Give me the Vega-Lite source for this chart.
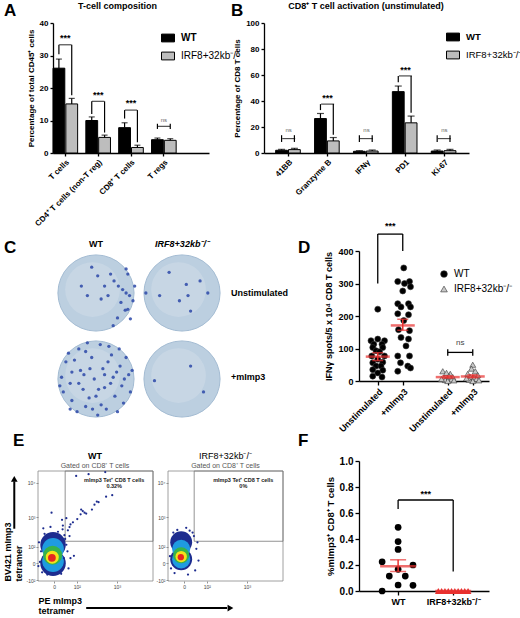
{
"$schema":"https://vega.github.io/schema/vega-lite/v6.json",
"background":"white",
"padding":{"left":3,"top":2,"right":0,"bottom":0},
"columns":9,
"bounds":"flush",
"spacing":0,
"resolve":{"scale":{"color":"independent","shape":"independent","size":"independent"},"legend":{"color":"independent","shape":"independent","size":"independent"}},
"config":{
 "font":"Liberation Sans",
 "view":{"stroke":null},
 "axis":{"grid":false,"domainColor":"#000","domainWidth":1.3,"tickColor":"#000","tickWidth":1.3,"tickSize":3,"labelColor":"#000","titleColor":"#000","labelFontWeight":"bold","titleFontWeight":"bold","labelFontSize":8,"titleFontSize":8,"labelPadding":2,"titlePadding":4,"labelFont":"Liberation Sans","titleFont":"Liberation Sans"},
 "title":{"font":"Liberation Sans","fontWeight":"bold","color":"#000","fontSize":9},
 "legend":{"labelColor":"#000","labelFont":"Liberation Sans"},
 "text":{"font":"Liberation Sans"}
},
"concat":[
{"width":34,"height":168,"data":{"values":[{"t":"A"}]},"mark":{"type":"text","align":"left","baseline":"middle","fontSize":17,"fontWeight":"bold"},
 "encoding":{"text":{"field":"t"},"x":{"datum":0,"type":"quantitative","scale":{"domain":[0,1]},"axis":null},"y":{"datum":1.071,"type":"quantitative","scale":{"domain":[0,1]},"axis":null}}},
{"width":8,"height":1,"data":{"values":[]},"mark":"point"},
{"width":7,"height":1,"data":{"values":[]},"mark":"point"},
{"width":115,"height":130,
 "title":{"text":"T-cell composition","dx":7,"offset":8},
 "data":{"values":[
  {"cell":"T cells","g":"WT","m":26.1,"hi":28.9},
  {"cell":"T cells","g":"IRF8+32kb⁻/⁻","m":15.1,"hi":16.8},
  {"cell":"CD4⁺ T cells (non-T reg)","g":"WT","m":10.0,"hi":11.1},
  {"cell":"CD4⁺ T cells (non-T reg)","g":"IRF8+32kb⁻/⁻","m":4.8,"hi":5.5},
  {"cell":"CD8⁺ T cells","g":"WT","m":7.8,"hi":9.3},
  {"cell":"CD8⁺ T cells","g":"IRF8+32kb⁻/⁻","m":1.7,"hi":2.4},
  {"cell":"T regs","g":"WT","m":4.1,"hi":4.6},
  {"cell":"T regs","g":"IRF8+32kb⁻/⁻","m":3.9,"hi":4.4}]},
 "encoding":{"x":{"field":"cell","type":"nominal","scale":{"domain":["T cells","CD4⁺ T cells (non-T reg)","CD8⁺ T cells","T regs"," "],"range":[0,156],"paddingInner":0.25,"paddingOuter":0},
   "axis":{"values":["T cells","CD4⁺ T cells (non-T reg)","CD8⁺ T cells","T regs"],"labelAngle":-45,"title":null,"labelFontSize":8}}},
 "layer":[
  {"mark":{"type":"bar","stroke":"#000","strokeWidth":1},
   "encoding":{"xOffset":{"field":"g","type":"nominal","scale":{"domain":["WT","IRF8+32kb⁻/⁻"],"paddingInner":0.08}},
    "y":{"field":"m","type":"quantitative","scale":{"domain":[0,40]},"axis":{"values":[0,10,20,30,40],"title":"Percentage of total CD45⁺ cells"}},
    "color":{"field":"g","type":"nominal","scale":{"domain":["WT","IRF8+32kb⁻/⁻"],"range":["#000000","#bdbdbd"]},
     "legend":{"title":null,"orient":"none","legendX":108,"legendY":8,"symbolType":"M-1,-0.6H1V0.6H-1Z","symbolSize":169,"symbolStrokeColor":"#000","symbolStrokeWidth":1,"labelFontSize":10,"rowPadding":5,"labelOffset":6,
      "encode":{"labels":{"update":{"fontWeight":{"signal":"datum.label === 'WT' ? 'bold' : 'normal'"}}}}}}}},
  {"mark":{"type":"rule","color":"#000","strokeWidth":1.2},
   "encoding":{"xOffset":{"field":"g","type":"nominal","scale":{"domain":["WT","IRF8+32kb⁻/⁻"],"paddingInner":0.08}},
    "y":{"field":"m","type":"quantitative","scale":{"domain":[0,40]},"axis":{"values":[0,10,20,30,40],"title":"Percentage of total CD45⁺ cells"}},"y2":{"field":"hi"}}},
  {"mark":{"type":"tick","orient":"horizontal","size":6,"thickness":1.2,"color":"#000"},
   "encoding":{"xOffset":{"field":"g","type":"nominal","scale":{"domain":["WT","IRF8+32kb⁻/⁻"],"paddingInner":0.08}},
    "y":{"field":"hi","type":"quantitative","scale":{"domain":[0,40]},"axis":{"values":[0,10,20,30,40],"title":"Percentage of total CD45⁺ cells"}}}},
  {"data":{"values":[
    {"cell":"T cells","g":"WT","lo":30.4,"top":33.3},{"cell":"T cells","g":"IRF8+32kb⁻/⁻","lo":17.8,"top":33.3},
    {"cell":"CD4⁺ T cells (non-T reg)","g":"WT","lo":12.0,"top":15.9},{"cell":"CD4⁺ T cells (non-T reg)","g":"IRF8+32kb⁻/⁻","lo":6.3,"top":15.9},
    {"cell":"CD8⁺ T cells","g":"WT","lo":10.6,"top":13.2},{"cell":"CD8⁺ T cells","g":"IRF8+32kb⁻/⁻","lo":3.3,"top":13.2},
    {"cell":"T regs","g":"WT","lo":7.4,"top":9.0},{"cell":"T regs","g":"IRF8+32kb⁻/⁻","lo":7.4,"top":9.0}]},
   "mark":{"type":"rule","color":"#000","strokeWidth":1.2},
   "encoding":{"xOffset":{"field":"g","type":"nominal","scale":{"domain":["WT","IRF8+32kb⁻/⁻"],"paddingInner":0.08}},
    "y":{"field":"lo","type":"quantitative","scale":{"domain":[0,40]},"axis":{"values":[0,10,20,30,40],"title":"Percentage of total CD45⁺ cells"}},"y2":{"field":"top"}}},
  {"data":{"values":[{"cell":"T cells","top":33.3},{"cell":"CD4⁺ T cells (non-T reg)","top":15.9},{"cell":"CD8⁺ T cells","top":13.2},{"cell":"T regs","top":8.2}]},
   "mark":{"type":"tick","orient":"horizontal","size":12.3,"thickness":1.2,"color":"#000"},
   "encoding":{"y":{"field":"top","type":"quantitative","scale":{"domain":[0,40]},"axis":{"values":[0,10,20,30,40],"title":"Percentage of total CD45⁺ cells"}}}},
  {"data":{"values":[{"cell":"T cells","ty":35.4,"lab":"***"},{"cell":"CD4⁺ T cells (non-T reg)","ty":18.0,"lab":"***"},{"cell":"CD8⁺ T cells","ty":15.3,"lab":"***"}]},
   "mark":{"type":"text","fontSize":9,"fontWeight":"bold","baseline":"middle"},
   "encoding":{"y":{"field":"ty","type":"quantitative","scale":{"domain":[0,40]},"axis":{"values":[0,10,20,30,40],"title":"Percentage of total CD45⁺ cells"}},"text":{"field":"lab"}}},
  {"data":{"values":[{"cell":"T regs","ty":10.3,"lab":"ns"}]},
   "mark":{"type":"text","fontSize":6,"color":"#666","baseline":"middle"},
   "encoding":{"y":{"field":"ty","type":"quantitative","scale":{"domain":[0,40]},"axis":{"values":[0,10,20,30,40],"title":"Percentage of total CD45⁺ cells"}},"text":{"field":"lab"}}}
 ]},
{"width":63,"height":1,"data":{"values":[]},"mark":"point"},
{"width":33,"height":168,"data":{"values":[{"t":"B"}]},"mark":{"type":"text","align":"left","baseline":"middle","fontSize":17,"fontWeight":"bold"},
 "encoding":{"text":{"field":"t"},"x":{"datum":0,"type":"quantitative","scale":{"domain":[0,1]},"axis":null},"y":{"datum":1.071,"type":"quantitative","scale":{"domain":[0,1]},"axis":null}}},
{"width":34,"height":130,
 "title":{"text":"CD8⁺ T cell activation (unstimulated)","dx":85,"offset":8},
 "data":{"values":[
  {"cell":"41BB","g":"WT","m":2.1,"hi":2.8},{"cell":"41BB","g":"IRF8+32kb⁻/⁻","m":2.6,"hi":3.6},
  {"cell":"Granzyme B","g":"WT","m":26.5,"hi":30.4},{"cell":"Granzyme B","g":"IRF8+32kb⁻/⁻","m":9.3,"hi":11.9},
  {"cell":"IFNγ","g":"WT","m":1.3,"hi":1.8},{"cell":"IFNγ","g":"IRF8+32kb⁻/⁻","m":1.5,"hi":2.3},
  {"cell":"PD1","g":"WT","m":47.2,"hi":51.5},{"cell":"PD1","g":"IRF8+32kb⁻/⁻","m":23.2,"hi":28.4},
  {"cell":"Ki-67","g":"WT","m":1.5,"hi":2.3},{"cell":"Ki-67","g":"IRF8+32kb⁻/⁻","m":1.8,"hi":2.8}]},
 "encoding":{"x":{"field":"cell","type":"nominal","scale":{"domain":["41BB","Granzyme B","IFNγ","PD1","Ki-67"],"range":[0,205],"paddingInner":0.33,"paddingOuter":0.3},
   "axis":{"labelAngle":-45,"title":null,"labelFontSize":8}}},
 "layer":[
  {"mark":{"type":"bar","stroke":"#000","strokeWidth":1},
   "encoding":{"xOffset":{"field":"g","type":"nominal","scale":{"domain":["WT","IRF8+32kb⁻/⁻"],"paddingInner":0.08}},
    "y":{"field":"m","type":"quantitative","scale":{"domain":[0,100]},"axis":{"values":[0,20,40,60,80,100],"title":"Percentage of CD8 T cells"}},
    "color":{"field":"g","type":"nominal","scale":{"domain":["WT","IRF8+32kb⁻/⁻"],"range":["#000000","#bdbdbd"]},
     "legend":{"title":null,"orient":"none","legendX":182,"legendY":7,"symbolType":"M-1,-0.6H1V0.6H-1Z","symbolSize":169,"symbolStrokeColor":"#000","symbolStrokeWidth":1,"labelFontSize":9.5,"rowPadding":5,"labelOffset":6,
      "encode":{"labels":{"update":{"fontWeight":{"signal":"datum.label === 'WT' ? 'bold' : 'normal'"}}}}}}}},
  {"mark":{"type":"rule","color":"#000","strokeWidth":1.2},
   "encoding":{"xOffset":{"field":"g","type":"nominal","scale":{"domain":["WT","IRF8+32kb⁻/⁻"],"paddingInner":0.08}},
    "y":{"field":"m","type":"quantitative","scale":{"domain":[0,100]},"axis":{"values":[0,20,40,60,80,100],"title":"Percentage of CD8 T cells"}},"y2":{"field":"hi"}}},
  {"mark":{"type":"tick","orient":"horizontal","size":7,"thickness":1.2,"color":"#000"},
   "encoding":{"xOffset":{"field":"g","type":"nominal","scale":{"domain":["WT","IRF8+32kb⁻/⁻"],"paddingInner":0.08}},
    "y":{"field":"hi","type":"quantitative","scale":{"domain":[0,100]},"axis":{"values":[0,20,40,60,80,100],"title":"Percentage of CD8 T cells"}}}},
  {"data":{"values":[
    {"cell":"Granzyme B","g":"WT","lo":33.0,"top":37.6},{"cell":"Granzyme B","g":"IRF8+32kb⁻/⁻","lo":14.0,"top":37.6},
    {"cell":"PD1","g":"WT","lo":54.5,"top":59.3},{"cell":"PD1","g":"IRF8+32kb⁻/⁻","lo":31.0,"top":59.3},
    {"cell":"41BB","g":"WT","lo":8.5,"top":13.7},{"cell":"41BB","g":"IRF8+32kb⁻/⁻","lo":8.5,"top":13.7},
    {"cell":"IFNγ","g":"WT","lo":8.5,"top":13.7},{"cell":"IFNγ","g":"IRF8+32kb⁻/⁻","lo":8.5,"top":13.7},
    {"cell":"Ki-67","g":"WT","lo":8.5,"top":13.7},{"cell":"Ki-67","g":"IRF8+32kb⁻/⁻","lo":8.5,"top":13.7}]},
   "mark":{"type":"rule","color":"#000","strokeWidth":1.2},
   "encoding":{"xOffset":{"field":"g","type":"nominal","scale":{"domain":["WT","IRF8+32kb⁻/⁻"],"paddingInner":0.08}},
    "y":{"field":"lo","type":"quantitative","scale":{"domain":[0,100]},"axis":{"values":[0,20,40,60,80,100],"title":"Percentage of CD8 T cells"}},"y2":{"field":"top"}}},
  {"data":{"values":[{"cell":"Granzyme B","top":37.6},{"cell":"PD1","top":59.3},{"cell":"41BB","top":11.1},{"cell":"IFNγ","top":11.1},{"cell":"Ki-67","top":11.1}]},
   "mark":{"type":"tick","orient":"horizontal","size":13,"thickness":1.2,"color":"#000"},
   "encoding":{"y":{"field":"top","type":"quantitative","scale":{"domain":[0,100]},"axis":{"values":[0,20,40,60,80,100],"title":"Percentage of CD8 T cells"}}}},
  {"data":{"values":[{"cell":"Granzyme B","ty":42.3,"lab":"***"},{"cell":"PD1","ty":64.0,"lab":"***"}]},
   "mark":{"type":"text","fontSize":9,"fontWeight":"bold","baseline":"middle"},
   "encoding":{"y":{"field":"ty","type":"quantitative","scale":{"domain":[0,100]},"axis":{"values":[0,20,40,60,80,100],"title":"Percentage of CD8 T cells"}},"text":{"field":"lab"}}},
  {"data":{"values":[{"cell":"41BB","ty":18,"lab":"ns"},{"cell":"IFNγ","ty":18,"lab":"ns"},{"cell":"Ki-67","ty":18,"lab":"ns"}]},
   "mark":{"type":"text","fontSize":6,"color":"#666","baseline":"middle"},
   "encoding":{"y":{"field":"ty","type":"quantitative","scale":{"domain":[0,100]},"axis":{"values":[0,20,40,60,80,100],"title":"Percentage of CD8 T cells"}},"text":{"field":"lab"}}}
 ]},
{"width":61,"height":1,"data":{"values":[]},"mark":"point"},
{"width":1,"height":1,"data":{"values":[]},"mark":"point"},

{"width":34,"height":270,"data":{"values":[{"t":"C"}]},"mark":{"type":"text","align":"left","baseline":"middle","fontSize":17,"fontWeight":"bold"},
 "encoding":{"text":{"field":"t"},"x":{"datum":0,"type":"quantitative","scale":{"domain":[0,1]},"axis":null},"y":{"datum":0.789,"type":"quantitative","scale":{"domain":[0,1]},"axis":null}}},
{"width":1,"height":1,"data":{"values":[]},"mark":"point"},
{"width":7,"height":242,
 "encoding":{"x":{"field":"x","type":"quantitative","scale":{"domain":[0.419,3.174],"range":[0,237]},"axis":null},
  "y":{"field":"y","type":"quantitative","scale":{"domain":[-0.186,2.628],"reverse":true},"axis":null}},
 "layer":[
  {"data":{"values":[{"x":1,"y":1},{"x":2,"y":1},{"x":1,"y":2},{"x":2,"y":2}]},
   "mark":{"type":"point","filled":true,"size":5800,"color":"#bccfe0","stroke":"#a4bcd3","strokeWidth":1,"opacity":1}},
  {"data":{"values":[{"x":0.96,"y":0.96},{"x":1.96,"y":0.96},{"x":0.96,"y":1.96},{"x":1.96,"y":1.96}]},
   "mark":{"type":"point","filled":true,"size":3000,"color":"#d6e2ec","opacity":0.4,"strokeWidth":0}},
  {"data":{"values":[
    {"x":1.35,"y":0.72},{"x":1.37,"y":0.78},{"x":1.21,"y":0.86},{"x":1.26,"y":0.92},{"x":1.31,"y":0.96},{"x":1.35,"y":1.0},{"x":1.14,"y":1.03},{"x":1.06,"y":1.07},{"x":1.43,"y":1.09},{"x":1.37,"y":1.19},{"x":1.25,"y":1.29},{"x":0.83,"y":0.92},{"x":1.10,"y":0.92},{"x":1.17,"y":0.78},{"x":1.02,"y":0.80},{"x":1.45,"y":0.92},{"x":1.39,"y":1.03},{"x":1.34,"y":1.2},{"x":1.29,"y":1.11},{"x":0.90,"y":1.03},{"x":1.2,"y":1.38},{"x":0.95,"y":0.7},{"x":1.4,"y":1.3},
    {"x":1.58,"y":1.0},{"x":2.05,"y":0.90},{"x":2.07,"y":1.03},{"x":1.97,"y":1.09},{"x":2.21,"y":0.86},{"x":1.85,"y":0.76},{"x":1.74,"y":1.03},{"x":2.10,"y":1.21},{"x":2.3,"y":1.0},
    {"x":0.65,"y":1.8},{"x":0.7,"y":2.05},{"x":0.72,"y":2.25},{"x":0.8,"y":1.65},{"x":0.82,"y":1.9},{"x":0.85,"y":2.12},{"x":0.88,"y":2.32},{"x":0.95,"y":1.75},{"x":0.98,"y":2.0},{"x":1.0,"y":2.2},{"x":1.05,"y":1.6},{"x":1.08,"y":1.88},{"x":1.1,"y":2.1},{"x":1.12,"y":2.35},{"x":1.18,"y":1.72},{"x":1.2,"y":1.98},{"x":1.22,"y":2.2},{"x":1.28,"y":1.85},{"x":1.3,"y":2.08},{"x":1.32,"y":2.28},{"x":1.38,"y":1.95},{"x":0.6,"y":1.98},{"x":0.62,"y":2.15},{"x":0.75,"y":1.78},{"x":0.9,"y":1.58},{"x":1.15,"y":1.62},{"x":1.35,"y":1.75},{"x":1.4,"y":2.15},{"x":0.78,"y":2.38},{"x":1.02,"y":2.42},{"x":1.25,"y":2.38},{"x":0.68,"y":1.7},{"x":0.92,"y":2.22},{"x":1.14,"y":1.8},{"x":0.72,"y":1.92},{"x":1.06,"y":2.3},{"x":0.86,"y":1.95},{"x":1.27,"y":1.65},{"x":0.58,"y":2.08},{"x":1.42,"y":1.9},{"x":0.93,"y":1.88},{"x":1.03,"y":2.12},{"x":1.17,"y":2.05},{"x":0.8,"y":2.05},{"x":1.24,"y":1.92},{"x":0.96,"y":2.35},{"x":1.1,"y":1.95},{"x":0.88,"y":1.68},{"x":1.33,"y":2.0},{"x":0.7,"y":2.35},
    {"x":1.68,"y":2.02},{"x":2.1,"y":1.85},{"x":2.25,"y":2.15}]},
   "mark":{"type":"point","filled":true,"size":11,"color":"#2c48a8","opacity":0.85}},
  {"data":{"values":[{"x":1,"y":0.43,"t":"WT"}]},
   "mark":{"type":"text","fontSize":9,"fontWeight":"bold","baseline":"middle"},"encoding":{"text":{"field":"t"}}},
  {"data":{"values":[{"x":2,"y":0.43,"t":"IRF8+32kb⁻/⁻"}]},
   "mark":{"type":"text","fontSize":9,"fontWeight":"bold","fontStyle":"italic","baseline":"middle"},"encoding":{"text":{"field":"t"}}},
  {"data":{"values":[{"x":2.57,"y":1.0,"t":"Unstimulated"},{"x":2.57,"y":1.98,"t":"+mImp3"}]},
   "mark":{"type":"text","fontSize":9,"fontWeight":"bold","align":"left","baseline":"middle"},"encoding":{"text":{"field":"t"}}}
 ]},
{"width":1,"height":1,"data":{"values":[]},"mark":"point"},
{"width":1,"height":1,"data":{"values":[]},"mark":"point"},
{"width":1,"height":1,"data":{"values":[]},"mark":"point"},
{"width":1,"height":1,"data":{"values":[]},"mark":"point"},
{"width":61,"height":270,"data":{"values":[{"t":"D"}]},"mark":{"type":"text","align":"left","baseline":"middle","fontSize":17,"fontWeight":"bold"},
 "encoding":{"text":{"field":"t"},"x":{"datum":0,"type":"quantitative","scale":{"domain":[0,1]},"axis":null},"y":{"datum":0.789,"type":"quantitative","scale":{"domain":[0,1]},"axis":null}}},
{"width":130,"height":190,
 "encoding":{"x":{"field":"x","type":"quantitative","scale":{"domain":[0.25,5.45]},
   "axis":{"values":[1,2,3.8,4.8],"labelExpr":"datum.value == 1 || datum.value == 3.8 ? 'Unstimulated' : '+mImp3'","labelAngle":-45,"labelOverlap":false,"title":null,"labelFontSize":9,"tickSize":4}}},
 "layer":[
  {"data":{"values":[
    {"g":"WT","x":1.0,"v":221},{"g":"WT","x":0.73,"v":124},{"g":"WT","x":1.0,"v":129},{"g":"WT","x":1.27,"v":124},{"g":"WT","x":0.84,"v":113},{"g":"WT","x":1.17,"v":113},{"g":"WT","x":0.8,"v":103},{"g":"WT","x":1.2,"v":103},{"g":"WT","x":0.93,"v":93},{"g":"WT","x":1.07,"v":90},{"g":"WT","x":0.76,"v":77},{"g":"WT","x":1.27,"v":77},{"g":"WT","x":1.0,"v":67},{"g":"WT","x":0.8,"v":56},{"g":"WT","x":1.2,"v":58},{"g":"WT","x":0.93,"v":46},{"g":"WT","x":1.13,"v":46},{"g":"WT","x":0.8,"v":35},{"g":"WT","x":1.2,"v":33},{"g":"WT","x":1.0,"v":25},{"g":"WT","x":0.8,"v":15},{"g":"WT","x":1.17,"v":12},
    {"g":"WT","x":2.04,"v":348},{"g":"WT","x":1.8,"v":306},{"g":"WT","x":2.27,"v":306},{"g":"WT","x":2.07,"v":300},{"g":"WT","x":2.31,"v":290},{"g":"WT","x":2.0,"v":277},{"g":"WT","x":1.8,"v":238},{"g":"WT","x":2.23,"v":238},{"g":"WT","x":1.93,"v":228},{"g":"WT","x":2.31,"v":228},{"g":"WT","x":1.8,"v":207},{"g":"WT","x":2.23,"v":204},{"g":"WT","x":2.04,"v":186},{"g":"WT","x":1.83,"v":158},{"g":"WT","x":2.27,"v":155},{"g":"WT","x":1.93,"v":134},{"g":"WT","x":2.23,"v":129},{"g":"WT","x":2.13,"v":108},{"g":"WT","x":1.8,"v":77},{"g":"WT","x":2.27,"v":77},{"g":"WT","x":1.91,"v":56},{"g":"WT","x":2.2,"v":46},{"g":"WT","x":2.31,"v":40},{"g":"WT","x":1.8,"v":30},
    {"g":"IRF8+32kb⁻/⁻","x":3.6,"v":30},{"g":"IRF8+32kb⁻/⁻","x":3.75,"v":25},{"g":"IRF8+32kb⁻/⁻","x":3.9,"v":22},{"g":"IRF8+32kb⁻/⁻","x":4.0,"v":12},{"g":"IRF8+32kb⁻/⁻","x":3.65,"v":10},{"g":"IRF8+32kb⁻/⁻","x":3.8,"v":8},{"g":"IRF8+32kb⁻/⁻","x":3.95,"v":5},{"g":"IRF8+32kb⁻/⁻","x":3.7,"v":3},{"g":"IRF8+32kb⁻/⁻","x":3.85,"v":15},{"g":"IRF8+32kb⁻/⁻","x":4.05,"v":2},{"g":"IRF8+32kb⁻/⁻","x":3.55,"v":6},{"g":"IRF8+32kb⁻/⁻","x":3.8,"v":0},
    {"g":"IRF8+32kb⁻/⁻","x":4.8,"v":50},{"g":"IRF8+32kb⁻/⁻","x":4.75,"v":38},{"g":"IRF8+32kb⁻/⁻","x":4.9,"v":30},{"g":"IRF8+32kb⁻/⁻","x":4.6,"v":22},{"g":"IRF8+32kb⁻/⁻","x":5.0,"v":18},{"g":"IRF8+32kb⁻/⁻","x":4.7,"v":12},{"g":"IRF8+32kb⁻/⁻","x":4.85,"v":10},{"g":"IRF8+32kb⁻/⁻","x":4.95,"v":6},{"g":"IRF8+32kb⁻/⁻","x":4.65,"v":4},{"g":"IRF8+32kb⁻/⁻","x":5.05,"v":2},{"g":"IRF8+32kb⁻/⁻","x":4.8,"v":0},{"g":"IRF8+32kb⁻/⁻","x":4.55,"v":8}]},
   "mark":{"type":"point","filled":true,"size":36,"stroke":"#333","strokeWidth":0.6,"opacity":1},
   "encoding":{"y":{"field":"v","type":"quantitative","scale":{"domain":[0,400],"range":[190,60]},"axis":{"values":[0,100,200,300,400],"title":"IFNγ spots/5 x 10⁴ CD8 T cells","labelFontSize":9,"titleFontSize":9,"tickSize":4}},
    "color":{"field":"g","type":"nominal","scale":{"domain":["WT","IRF8+32kb⁻/⁻"],"range":["#000000","#c8c8c8"]},
     "legend":{"title":null,"orient":"none","legendX":80,"legendY":78,"labelFontSize":10,"symbolSize":45,"rowPadding":5,"labelOffset":5,"symbolStrokeColor":"#333","symbolStrokeWidth":0.6,"encode":{"labels":{"update":{"fontWeight":{"signal":"datum.label === 'WT' ? 'bold' : 'normal'"}}}}}},
    "shape":{"field":"g","type":"nominal","scale":{"domain":["WT","IRF8+32kb⁻/⁻"],"range":["circle","triangle-up"]},
     "legend":{"title":null,"orient":"none","legendX":80,"legendY":78,"labelFontSize":10,"symbolSize":45,"rowPadding":5,"labelOffset":5,"symbolStrokeColor":"#333","symbolStrokeWidth":0.6,"encode":{"labels":{"update":{"fontWeight":{"signal":"datum.label === 'WT' ? 'bold' : 'normal'"}}}}}}}},
  {"data":{"values":[{"x":1,"m":75},{"x":2,"m":171},{"x":3.8,"m":12},{"x":4.8,"m":14}]},
   "mark":{"type":"tick","orient":"horizontal","size":24,"thickness":2.5,"color":"#e8312f"},
   "encoding":{"y":{"field":"m","type":"quantitative","scale":{"domain":[0,400],"range":[190,60]},"axis":{"values":[0,100,200,300,400],"title":"IFNγ spots/5 x 10⁴ CD8 T cells","labelFontSize":9,"titleFontSize":9,"tickSize":4}}}},
  {"data":{"values":[{"x":1,"lo":63,"hi":87},{"x":2,"lo":156,"hi":190},{"x":3.8,"lo":9,"hi":16},{"x":4.8,"lo":10,"hi":19}]},
   "layer":[
    {"mark":{"type":"rule","color":"#e8312f","strokeWidth":1.5},"encoding":{"y":{"field":"lo","type":"quantitative","scale":{"domain":[0,400],"range":[190,60]},"axis":{"values":[0,100,200,300,400],"title":"IFNγ spots/5 x 10⁴ CD8 T cells","labelFontSize":9,"titleFontSize":9,"tickSize":4}},"y2":{"field":"hi"}}},
    {"mark":{"type":"tick","orient":"horizontal","size":11,"thickness":1.5,"color":"#e8312f"},"encoding":{"y":{"field":"hi","type":"quantitative","scale":{"domain":[0,400],"range":[190,60]},"axis":{"values":[0,100,200,300,400],"title":"IFNγ spots/5 x 10⁴ CD8 T cells","labelFontSize":9,"titleFontSize":9,"tickSize":4}}}},
    {"mark":{"type":"tick","orient":"horizontal","size":11,"thickness":1.5,"color":"#e8312f"},"encoding":{"y":{"field":"lo","type":"quantitative","scale":{"domain":[0,400],"range":[190,60]},"axis":{"values":[0,100,200,300,400],"title":"IFNγ spots/5 x 10⁴ CD8 T cells","labelFontSize":9,"titleFontSize":9,"tickSize":4}}}}
   ]},
  {"data":{"values":[{"x":1,"x2":1,"y":300,"y2":452},{"x":1,"x2":2,"y":452,"y2":452},{"x":2,"x2":2,"y":400,"y2":452},{"x":3.8,"x2":3.8,"y":78,"y2":98},{"x":3.8,"x2":4.8,"y":88,"y2":88},{"x":4.8,"x2":4.8,"y":78,"y2":98}]},
   "mark":{"type":"rule","color":"#000","strokeWidth":1.3},
   "encoding":{"x2":{"field":"x2"},"y":{"field":"y","type":"quantitative","scale":{"domain":[0,400],"range":[190,60]},"axis":{"values":[0,100,200,300,400],"title":"IFNγ spots/5 x 10⁴ CD8 T cells","labelFontSize":9,"titleFontSize":9,"tickSize":4}},"y2":{"field":"y2"}}},
  {"data":{"values":[{"x":1.5,"y":478,"lab":"***"}]},
   "mark":{"type":"text","fontSize":9,"fontWeight":"bold","baseline":"middle"},
   "encoding":{"y":{"field":"y","type":"quantitative","scale":{"domain":[0,400],"range":[190,60]},"axis":{"values":[0,100,200,300,400],"title":"IFNγ spots/5 x 10⁴ CD8 T cells","labelFontSize":9,"titleFontSize":9,"tickSize":4}},"text":{"field":"lab"}}},
  {"data":{"values":[{"x":4.3,"y":118,"lab":"ns"}]},
   "mark":{"type":"text","fontSize":8,"color":"#444","baseline":"middle"},
   "encoding":{"y":{"field":"y","type":"quantitative","scale":{"domain":[0,400],"range":[190,60]},"axis":{"values":[0,100,200,300,400],"title":"IFNγ spots/5 x 10⁴ CD8 T cells","labelFontSize":9,"titleFontSize":9,"tickSize":4}},"text":{"field":"lab"}}}
 ]},

{"width":34,"height":130,"data":{"values":[{"t":"E"}]},"mark":{"type":"text","align":"left","baseline":"middle","fontSize":17,"fontWeight":"bold"},
 "encoding":{"text":{"field":"t"},"x":{"datum":0.265,"type":"quantitative","scale":{"domain":[0,1]},"axis":null},"y":{"datum":1.154,"type":"quantitative","scale":{"domain":[0,1]},"axis":null}}},
{"width":8,"height":120,
 "title":{"text":"WT","subtitle":"Gated on CD8⁺ T cells","dx":53,"fontSize":9,"subtitleFontSize":7,"subtitleColor":"#555","subtitleFont":"Liberation Sans","offset":-8,"subtitlePadding":1},
 "encoding":{
  "x":{"field":"x","type":"quantitative","scale":{"type":"symlog","constant":50,"domain":[-60,6000],"range":[0,115],"nice":false,"zero":false},
   "axis":{"values":[0,100,1000],"labelExpr":"datum.value == 0 ? '0' : datum.value == 100 ? '10²' : '10³'","labelFontSize":5,"labelFontWeight":"normal","labelColor":"#444","tickSize":2,"tickColor":"#666","tickWidth":0.7,"domain":false,"labelPadding":1,
    "title":["PE mImp3","tetramer"],"titleAnchor":"start","titleAlign":"left","titleFontSize":9,"titlePadding":7,"titleLineHeight":10}},
  "y":{"field":"y","type":"quantitative","scale":{"type":"symlog","constant":50,"domain":[-110,21800],"range":[120,10],"nice":false,"zero":false},
   "axis":{"values":[-100,0,100,1000,10000],"labelExpr":"datum.value == -100 ? '-10²' : datum.value == 0 ? '0' : datum.value == 100 ? '10²' : datum.value == 1000 ? '10³' : '10⁴'","labelFontSize":5,"labelFontWeight":"normal","labelColor":"#444","tickSize":2,"tickColor":"#666","tickWidth":0.7,"domain":false,"labelPadding":1,
    "title":["BV421 mImp3","tetramer"],"titleAnchor":"start","titleFontSize":9,"titlePadding":3,"titleLineHeight":11}}},
 "layer":[
  {"data":{"values":[{"x":-60,"x2":6000,"y":-110,"y2":21800}]},
   "mark":{"type":"rect","fill":"transparent","stroke":"#888","strokeWidth":0.8},
   "encoding":{"x2":{"field":"x2"},"y2":{"field":"y2"}}},
  {"data":{"values":[{"x":35,"x2":6000,"y":164,"y2":21800}]},
   "mark":{"type":"rect","fill":"transparent","stroke":"#777","strokeWidth":0.8},
   "encoding":{"x2":{"field":"x2"},"y2":{"field":"y2"}}},
  {"data":{"values":[{"x":-3,"y":120,"lvl":1},{"x":-3,"y":0,"lvl":1},{"x":-3,"y":80,"lvl":2},{"x":-3,"y":8,"lvl":2},{"x":-4,"y":35,"lvl":3},{"x":-5,"y":25,"lvl":4},{"x":-6,"y":22,"lvl":5}]},
   "mark":{"type":"point","filled":true,"opacity":1,"strokeWidth":0},
   "encoding":{"size":{"field":"lvl","type":"quantitative","scale":{"type":"threshold","domain":[1.5,2.5,3.5,4.5],"range":[650,470,360,170,60]},"legend":null},
    "color":{"field":"lvl","type":"ordinal","scale":{"domain":[1,2,3,4,5],"range":["#1d2c8f","#1f9be0","#37b34a","#f5e11b","#e6261f"]},"legend":null}}},
  {"data":{"values":[
    {"x":-45,"y":60},{"x":-50,"y":5},{"x":-40,"y":-40},{"x":30,"y":20},{"x":45,"y":60},{"x":35,"y":200},{"x":-30,"y":300},{"x":10,"y":350},{"x":40,"y":120},{"x":-55,"y":150},{"x":20,"y":-50},{"x":-20,"y":-55},{"x":55,"y":250},{"x":-10,"y":500},{"x":25,"y":420},{"x":-35,"y":450},{"x":60,"y":20},{"x":50,"y":-20},{"x":-58,"y":-10},
    {"x":95,"y":15800},{"x":215,"y":17600},{"x":545,"y":20300},{"x":23,"y":830},{"x":40,"y":925},{"x":74,"y":695},{"x":103,"y":870},{"x":130,"y":1210},{"x":150,"y":1510},{"x":168,"y":1350},{"x":135,"y":1680},{"x":186,"y":1270},{"x":262,"y":1680},{"x":303,"y":2320},{"x":345,"y":2880},{"x":380,"y":2760},{"x":570,"y":3980},{"x":785,"y":4400},{"x":26,"y":550},{"x":55,"y":495},{"x":47,"y":390},{"x":32,"y":270},{"x":80,"y":32},{"x":-7,"y":1350},{"x":60,"y":600}]},
   "mark":{"type":"point","filled":true,"size":5,"color":"#1d2c8f","opacity":1}},
  {"data":{"values":[{"x":870,"y":12200,"t":"mImp3 Tet⁺ CD8 T cells"},{"x":870,"y":7900,"t":"0.32%"}]},
   "mark":{"type":"text","fontSize":5.5,"fontWeight":"bold","color":"#222","baseline":"middle"},
   "encoding":{"text":{"field":"t"}}},
  {"data":{"values":[{"x":-298,"x2":-298,"y":439,"y2":11000},{"x":186,"x2":220000,"y":-900,"y2":-900}]},
   "mark":{"type":"rule","color":"#000","strokeWidth":2},
   "encoding":{"x2":{"field":"x2"},"y2":{"field":"y2"}}},
  {"data":{"values":[{"x":-298,"y":13000}]},
   "mark":{"type":"point","shape":"triangle-up","filled":true,"size":45,"color":"#000","opacity":1}},
  {"data":{"values":[{"x":260000,"y":-900}]},
   "mark":{"type":"point","shape":"triangle-right","filled":true,"size":45,"color":"#000","opacity":1}}
 ]},
{"width":1,"height":1,"data":{"values":[]},"mark":"point"},
{"width":1,"height":1,"data":{"values":[]},"mark":"point"},
{"width":63,"height":120,
 "title":{"text":"IRF8+32kb⁻/⁻","subtitle":"Gated on CD8⁺ T cells","dx":26,"fontSize":9,"fontWeight":"normal","subtitleFontSize":7,"subtitleColor":"#555","subtitleFont":"Liberation Sans","offset":-8,"subtitlePadding":1},
 "encoding":{
  "x":{"field":"x","type":"quantitative","scale":{"type":"symlog","constant":50,"domain":[-60,6000],"range":[0,115],"nice":false,"zero":false},
   "axis":{"values":[0,100,1000],"labelExpr":"datum.value == 0 ? '0' : datum.value == 100 ? '10²' : '10³'","labelFontSize":5,"labelFontWeight":"normal","labelColor":"#444","tickSize":2,"tickColor":"#666","tickWidth":0.7,"domain":false,"labelPadding":1,"title":null}},
  "y":{"field":"y","type":"quantitative","scale":{"type":"symlog","constant":50,"domain":[-110,21800],"range":[120,10],"nice":false,"zero":false},
   "axis":{"values":[-100,0,100,1000,10000],"labelExpr":"datum.value == -100 ? '-10²' : datum.value == 0 ? '0' : datum.value == 100 ? '10²' : datum.value == 1000 ? '10³' : '10⁴'","labelFontSize":5,"labelFontWeight":"normal","labelColor":"#444","tickSize":2,"tickColor":"#666","tickWidth":0.7,"domain":false,"labelPadding":1,"title":null}}},
 "layer":[
  {"data":{"values":[{"x":-60,"x2":6000,"y":-110,"y2":21800}]},
   "mark":{"type":"rect","fill":"transparent","stroke":"#888","strokeWidth":0.8},
   "encoding":{"x2":{"field":"x2"},"y2":{"field":"y2"}}},
  {"data":{"values":[{"x":31,"x2":6000,"y":164,"y2":21800}]},
   "mark":{"type":"rect","fill":"transparent","stroke":"#777","strokeWidth":0.8},
   "encoding":{"x2":{"field":"x2"},"y2":{"field":"y2"}}},
  {"data":{"values":[{"x":-8,"y":150,"lvl":1},{"x":-8,"y":15,"lvl":1},{"x":-8,"y":80,"lvl":2},{"x":-8,"y":15,"lvl":2},{"x":-8,"y":35,"lvl":3},{"x":-8,"y":28,"lvl":4},{"x":-9,"y":25,"lvl":5}]},
   "mark":{"type":"point","filled":true,"opacity":1,"strokeWidth":0},
   "encoding":{"size":{"field":"lvl","type":"quantitative","scale":{"type":"threshold","domain":[1.5,2.5,3.5,4.5],"range":[480,330,260,130,40]},"legend":null},
    "color":{"field":"lvl","type":"ordinal","scale":{"domain":[1,2,3,4,5],"range":["#1d2c8f","#1f9be0","#37b34a","#f5e11b","#e6261f"]},"legend":null}}},
  {"data":{"values":[{"x":-20,"y":400},{"x":15,"y":380},{"x":30,"y":250},{"x":-40,"y":200},{"x":40,"y":80},{"x":-50,"y":30},{"x":35,"y":-30},{"x":-30,"y":-45},{"x":5,"y":470},{"x":25,"y":330},{"x":-35,"y":330},{"x":45,"y":150},{"x":-45,"y":-20},{"x":50,"y":10},{"x":10,"y":-55}]},
   "mark":{"type":"point","filled":true,"size":5,"color":"#1d2c8f","opacity":1}},
  {"data":{"values":[{"x":830,"y":12200,"t":"mImp3 Tet⁺ CD8 T cells"},{"x":830,"y":7900,"t":"0%"}]},
   "mark":{"type":"text","fontSize":5.5,"fontWeight":"bold","color":"#222","baseline":"middle"},
   "encoding":{"text":{"field":"t"}}}
 ]},
{"width":1,"height":1,"data":{"values":[]},"mark":"point"},
{"width":1,"height":1,"data":{"values":[]},"mark":"point"},
{"width":61,"height":130,"data":{"values":[{"t":"F"}]},"mark":{"type":"text","align":"left","baseline":"middle","fontSize":17,"fontWeight":"bold"},
 "encoding":{"text":{"field":"t"},"x":{"datum":0,"type":"quantitative","scale":{"domain":[0,1]},"axis":null},"y":{"datum":1.154,"type":"quantitative","scale":{"domain":[0,1]},"axis":null}}},
{"width":130,"height":130,
 "encoding":{"x":{"field":"x","type":"quantitative","scale":{"domain":[0.29,2.65]},
   "axis":{"values":[1,2],"labelExpr":"datum.value == 1 ? 'WT' : 'IRF8+32kb⁻/⁻'","labelAngle":0,"title":null,"labelFontSize":9,"tickSize":4}}},
 "layer":[
  {"data":{"values":[
    {"g":"WT","x":1.0,"v":0.49},{"g":"WT","x":1.0,"v":0.38},{"g":"WT","x":1.0,"v":0.32},{"g":"WT","x":0.71,"v":0.225},{"g":"WT","x":1.27,"v":0.2},{"g":"WT","x":1.0,"v":0.167},{"g":"WT","x":0.84,"v":0.115},{"g":"WT","x":1.13,"v":0.115},{"g":"WT","x":1.0,"v":0.046},{"g":"WT","x":1.27,"v":0.044},{"g":"WT","x":0.71,"v":0.0},
    {"g":"IRF8+32kb⁻/⁻","x":1.73,"v":0},{"g":"IRF8+32kb⁻/⁻","x":1.79,"v":0},{"g":"IRF8+32kb⁻/⁻","x":1.85,"v":0},{"g":"IRF8+32kb⁻/⁻","x":1.91,"v":0},{"g":"IRF8+32kb⁻/⁻","x":1.97,"v":0},{"g":"IRF8+32kb⁻/⁻","x":2.03,"v":0},{"g":"IRF8+32kb⁻/⁻","x":2.09,"v":0},{"g":"IRF8+32kb⁻/⁻","x":2.15,"v":0},{"g":"IRF8+32kb⁻/⁻","x":2.21,"v":0},{"g":"IRF8+32kb⁻/⁻","x":2.27,"v":0}]},
   "mark":{"type":"point","filled":true,"size":45,"opacity":1},
   "encoding":{"y":{"field":"v","type":"quantitative","scale":{"domain":[0,1]},"axis":{"values":[0,0.2,0.4,0.6,0.8,1],"format":".1f","title":"%mImp3⁺ CD8⁺ T cells","labelFontSize":10,"titleFontSize":9.5,"tickSize":4}},
    "color":{"field":"g","type":"nominal","scale":{"domain":["WT","IRF8+32kb⁻/⁻"],"range":["#000000","#e8312f"]},"legend":null},
    "shape":{"field":"g","type":"nominal","scale":{"domain":["WT","IRF8+32kb⁻/⁻"],"range":["circle","triangle-up"]},"legend":null}}},
  {"data":{"values":[{"x":1,"m":0.19},{"x":2,"m":0}]},
   "mark":{"type":"tick","orient":"horizontal","size":36,"thickness":2.5,"color":"#e8312f"},
   "encoding":{"y":{"field":"m","type":"quantitative","scale":{"domain":[0,1]},"axis":{"values":[0,0.2,0.4,0.6,0.8,1],"format":".1f","title":"%mImp3⁺ CD8⁺ T cells","labelFontSize":10,"titleFontSize":9.5,"tickSize":4}}}},
  {"data":{"values":[{"x":1,"lo":0.15,"hi":0.24}]},
   "layer":[
    {"mark":{"type":"rule","color":"#e8312f","strokeWidth":1.5},"encoding":{"y":{"field":"lo","type":"quantitative","scale":{"domain":[0,1]},"axis":{"values":[0,0.2,0.4,0.6,0.8,1],"format":".1f","title":"%mImp3⁺ CD8⁺ T cells","labelFontSize":10,"titleFontSize":9.5,"tickSize":4}},"y2":{"field":"hi"}}},
    {"mark":{"type":"tick","orient":"horizontal","size":16,"thickness":1.5,"color":"#e8312f"},"encoding":{"y":{"field":"hi","type":"quantitative","scale":{"domain":[0,1]},"axis":{"values":[0,0.2,0.4,0.6,0.8,1],"format":".1f","title":"%mImp3⁺ CD8⁺ T cells","labelFontSize":10,"titleFontSize":9.5,"tickSize":4}}}},
    {"mark":{"type":"tick","orient":"horizontal","size":16,"thickness":1.5,"color":"#e8312f"},"encoding":{"y":{"field":"lo","type":"quantitative","scale":{"domain":[0,1]},"axis":{"values":[0,0.2,0.4,0.6,0.8,1],"format":".1f","title":"%mImp3⁺ CD8⁺ T cells","labelFontSize":10,"titleFontSize":9.5,"tickSize":4}}}}
   ]},
  {"data":{"values":[{"x":1,"x2":1,"y":0.63,"y2":0.7},{"x":1,"x2":2,"y":0.7,"y2":0.7},{"x":2,"x2":2,"y":0.15,"y2":0.7}]},
   "mark":{"type":"rule","color":"#000","strokeWidth":1.3},
   "encoding":{"x2":{"field":"x2"},"y":{"field":"y","type":"quantitative","scale":{"domain":[0,1]},"axis":{"values":[0,0.2,0.4,0.6,0.8,1],"format":".1f","title":"%mImp3⁺ CD8⁺ T cells","labelFontSize":10,"titleFontSize":9.5,"tickSize":4}},"y2":{"field":"y2"}}},
  {"data":{"values":[{"x":1.5,"y":0.745,"lab":"***"}]},
   "mark":{"type":"text","fontSize":9,"fontWeight":"bold","baseline":"middle"},
   "encoding":{"y":{"field":"y","type":"quantitative","scale":{"domain":[0,1]},"axis":{"values":[0,0.2,0.4,0.6,0.8,1],"format":".1f","title":"%mImp3⁺ CD8⁺ T cells","labelFontSize":10,"titleFontSize":9.5,"tickSize":4}},"text":{"field":"lab"}}}
 ]}
]
}
